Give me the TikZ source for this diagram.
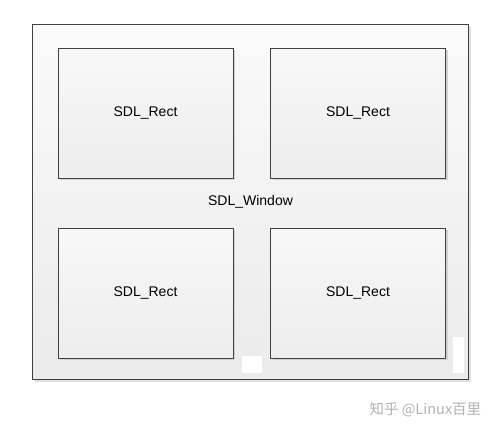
\documentclass[tikz,border=0pt]{standalone}
\usepackage{fontspec}
\setmainfont{Liberation Sans}
\newfontfamily\cjkfont{Noto Sans CJK SC}
\usetikzlibrary{shadows}
\begin{document}
\begin{tikzpicture}[x=1bp,y=-1bp]

    \tikzset{
      window/.style={
        draw=black!75,
        line width=1bp,
        top color=black!2,
        bottom color=black!8,
        minimum width=435bp,
        minimum height=355bp,
        inner sep=0pt,
        outer sep=0pt,
        font=\fontsize{14bp}{16bp}\selectfont,
        drop shadow={shadow xshift=2.5bp,shadow yshift=-2.5bp,fill=black!12,opacity=1},
      },
      rectbox/.style={
        draw=black!75,
        line width=1bp,
        top color=black!3,
        bottom color=black!7,
        minimum width=175bp,
        minimum height=130bp,
        inner sep=0pt,
        outer sep=0pt,
        font=\fontsize{14bp}{16bp}\selectfont,
        drop shadow={shadow xshift=2bp,shadow yshift=-2bp,fill=black!18,opacity=1},
      },
    }
    \useasboundingbox[fill=white] (0,0) rectangle (496,432);
    \node[window] (win) at (250.5,201.5) {\raisebox{-1.5bp}{SDL\_Window}};
	\node[rectbox] (r1) at (145.5,113) {\raisebox{-1.5bp}{SDL\_Rect}};
	\node[rectbox] (r2) at (358,113) {\raisebox{-1.5bp}{SDL\_Rect}};
	\node[rectbox] (r3) at (145.5,293) {\raisebox{-1.5bp}{SDL\_Rect}};
	\node[rectbox] (r4) at (358,293) {\raisebox{-1.5bp}{SDL\_Rect}};
	% white patches
	\fill[white] (242,356) rectangle (262,373);
	\fill[white] (453,337) rectangle (464,373);
	\node[anchor=west,text=black!30,font=\fontsize{14.5bp}{16bp}\selectfont] (mark) at (366,410) {\cjkfont 知乎 @Linux百里};

\end{tikzpicture}
\end{document}
